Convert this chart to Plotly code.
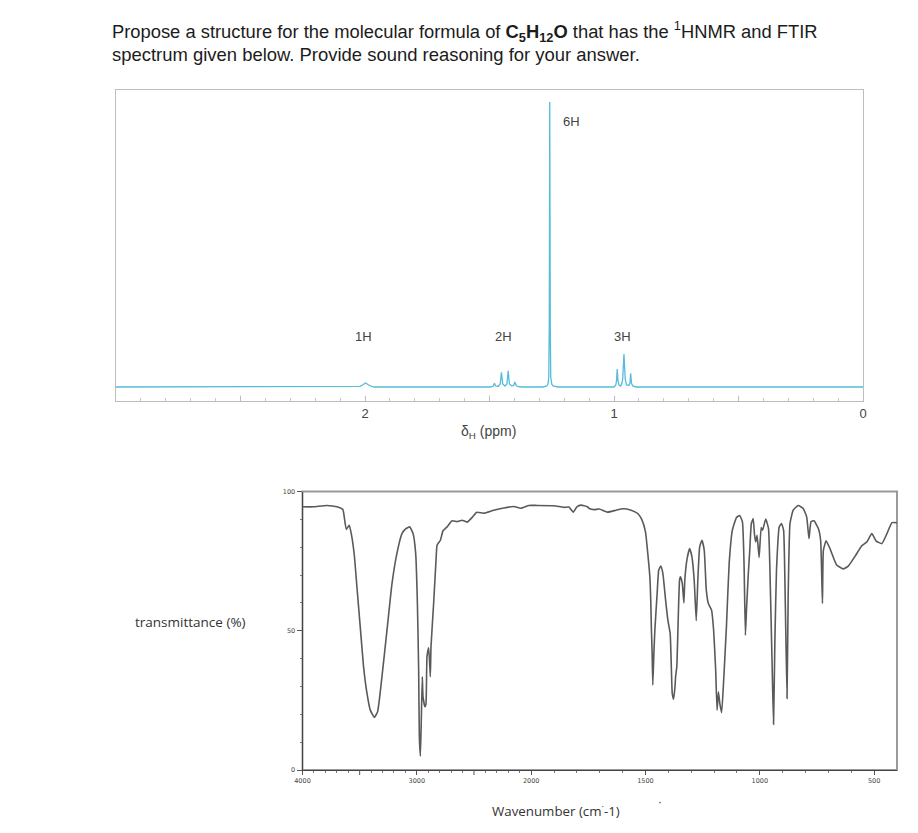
import plotly.graph_objects as go

W = 918
H = 833

# 1H NMR trace
nmr_ppm = [3.0, 2.03, 2.02, 2.01, 1.998, 1.985, 1.975, 1.965,
           1.495, 1.485, 1.48, 1.475, 1.465, 1.457, 1.452, 1.447, 1.438, 1.43, 1.425, 1.42,
           1.41, 1.403, 1.398, 1.393, 1.385, 1.37,
           1.285, 1.27, 1.265, 1.262, 1.26, 1.258, 1.256, 1.254, 1.25, 1.245, 1.225,
           1.0, 0.993, 0.99, 0.987, 0.984, 0.98, 0.973, 0.968, 0.965, 0.96, 0.955, 0.95,
           0.94, 0.936, 0.933, 0.93, 0.925, 0.91, 0.0]
nmr_height = [0, 0, 0.6, 2, 4, 2, 0.6, 0,
              0, 1, 3.7, 1, 0.5, 3, 14.7, 3, 1, 3, 16.3, 3,
              1, 1.5, 5, 1.5, 0.3, 0,
              0, 1, 3, 10, 60, 285, 60, 10, 3, 1, 0,
              0, 2, 6, 18, 6, 2, 1, 4, 8, 33, 8, 2,
              1.5, 4, 13.7, 4, 1, 0, 0]
nmr_major = [0, 1, 2]
nmr_half = [0.5, 1.5, 2.5]
nmr_minor = [0.1, 0.2, 0.3, 0.4, 0.6, 0.7, 0.8, 0.9, 1.1, 1.2, 1.3, 1.4, 1.6, 1.7, 1.8, 1.9,
             2.1, 2.2, 2.3, 2.4, 2.6, 2.7, 2.8, 2.9]

# FTIR trace
ir_wave = [4000, 3904, 3787, 3699, 3647, 3635, 3617, 3591, 3571, 3547, 3524, 3495, 3466, 3436, 3407,
           3372, 3343, 3305, 3261, 3217, 3174, 3130, 3100, 3062, 3033, 3010, 2995, 2984, 2978, 2969,
           2961, 2952, 2946, 2929, 2920, 2911, 2896, 2882, 2876, 2853, 2832, 2823, 2794, 2771, 2736,
           2692, 2648, 2604, 2560, 2516, 2478, 2414, 2327, 2239, 2151, 2093, 2020, 1974, 1901, 1857,
           1835, 1816, 1800, 1782, 1754, 1746, 1724, 1702, 1665, 1629, 1599, 1563, 1534, 1515, 1500,
           1490, 1481, 1477, 1474, 1471, 1468, 1463, 1459, 1449, 1442, 1433, 1424, 1412, 1402, 1392,
           1387, 1383, 1377, 1371, 1368, 1363, 1357, 1351, 1347, 1339, 1332, 1328, 1319, 1307, 1297,
           1287, 1278, 1271, 1263, 1253, 1243, 1234, 1225, 1211, 1202, 1193, 1187, 1181, 1175, 1167,
           1158, 1146, 1134, 1120, 1102, 1088, 1076, 1069, 1063, 1058, 1051, 1044, 1037, 1029, 1023,
           1018, 1012, 1003, 994, 988, 974, 962, 953, 946, 940, 934, 927, 915, 905, 896,
           889, 881, 876, 868, 854, 832, 810, 795, 785, 776, 763, 744, 734, 726, 722,
           710, 693, 664, 635, 613, 583, 554, 532, 510, 491, 466, 444, 422, 400]
ir_trans = [94.5, 94.5, 95, 94.5, 93.5, 90.9, 86.4, 87.9, 84.3, 77.2, 65.8, 51.4, 37.1, 27.5, 21.5,
            18.9, 20.9, 33.5, 50.2, 67, 77.8, 84.9, 86.5, 87.3, 84.9, 77.8, 59.8, 35.9, 12, 5,
            17.9, 33.5, 26.3, 22.7, 23.7, 40.7, 43.9, 33.5, 44.3, 59.8, 75.4, 80.7, 82.5, 85.9, 87.3,
            89.5, 89.2, 89.7, 89, 90.7, 92.5, 92.2, 93.3, 94.1, 94.6, 94, 95, 95, 94.9, 94.3,
            94.4, 92.6, 94.5, 95.1, 94.5, 93.9, 93.5, 93.7, 92.6, 93.3, 93.8, 93.3, 92.1, 89.7, 85.5,
            77.8, 69.4, 61, 50.2, 42.5, 30.5, 42.5, 50.2, 63.4, 71.8, 73.2, 70.6, 61, 53.8, 49,
            37.1, 27.5, 25.4, 29.9, 33.7, 37.1, 53.8, 68.2, 69.4, 67, 60, 68.2, 75.4, 79.5, 76.6,
            68.2, 53.6, 68.2, 80.1, 82.5, 78.9, 64.6, 59.8, 57.4, 50.2, 35.9, 21.5, 28.1, 23.9, 20.6,
            32.3, 51.4, 74.2, 86.1, 90.7, 91.4, 89.1, 74.2, 48.4, 58, 69.4, 78.9, 88.5, 90.3, 84.3,
            81.9, 84.3, 76.3, 87.1, 86.1, 90.1, 86.7, 62.2, 37.1, 16.4, 46.7, 71.8, 87.3, 88.5, 86.1,
            62.2, 25.7, 62.2, 88.5, 93.3, 95, 93.9, 90.9, 83.1, 89.1, 89.5, 86.7, 82.5, 59.8, 78.9,
            82.3, 79.5, 73.6, 72.2, 73.2, 76.8, 80.5, 81.9, 84.9, 82.2, 81.3, 84.9, 88.8, 88.8]
ir_major = [4000, 3000, 2000, 1500, 1000, 500]
ir_half = [3500, 2500]
ir_minor = [3900, 3800, 3700, 3600, 3400, 3300, 3200, 3100, 2900, 2800, 2700, 2600, 2400, 2300, 2200, 2100,
            1900, 1800, 1700, 1600, 1400, 1300, 1200, 1100, 900, 800, 700, 600]
ir_y_major = [0, 50, 100]
ir_y_minor = [10, 20, 30, 40, 60, 70, 80, 90]

# (text, x px, y px) for the text around the plots
peak_labels = [("6H", 571, 121), ("1H", 363, 336), ("2H", 503, 336), ("3H", 622, 336)]


def ir_pos(w):
    # the spectrometer doubles the scale below 2000 cm-1
    return 4000 - w if w >= 2000 else 2000 + (2000 - w) * 2


def dom_x(a, b):
    return [a / W, b / W]


def dom_y(top, bottom):
    return [1 - bottom / H, 1 - top / H]


fig = go.Figure()
fig.add_trace(go.Scatter(x=nmr_ppm, y=nmr_height, mode="lines",
                         line=dict(color="#55bcd9", width=1.3), xaxis="x", yaxis="y"))
fig.add_trace(go.Scatter(x=[ir_pos(w) for w in ir_wave], y=ir_trans, mode="lines",
                         line=dict(color="#5a5a5a", width=1.6, shape="spline", smoothing=0.4),
                         xaxis="x2", yaxis="y2"))


def label(text, x, y, size=13, color="#444444", family="Liberation Sans", anchor="center"):
    fig.add_annotation(text=text, x=x / W, y=1 - y / H, xref="paper", yref="paper",
                       showarrow=False, xanchor=anchor, yanchor="middle",
                       font=dict(size=size, color=color, family=family))


label("Propose a structure for the molecular formula of <b>C<sub>5</sub>H<sub>12</sub>O</b> "
      "that has the <sup>1</sup>HNMR and FTIR", 109.5, 31.5, size=18.35, color="#1c1c1c", anchor="left")
label("spectrum given below. Provide sound reasoning for your answer.", 109.5, 54,
      size=18.45, color="#1c1c1c", anchor="left")
for text, x, y in peak_labels:
    label(text, x, y)
label("δ<sub>H</sub> (ppm)", 488, 432, size=14)
label("transmittance (%)", 190, 622, size=13.5, family="Open Sans", color="#333333")
label("Wavenumber (cm<sup>·</sup>-1)", 556, 810, size=13.3, family="Open Sans", color="#333333")
label("·", 660, 802, size=12, color="#333333")

fig.add_shape(type="rect", xref="x2 domain", yref="y2 domain", x0=0, x1=1, y0=0, y1=1,
              line=dict(color="#9a9a9a", width=2), layer="below")
for v in nmr_half:
    fig.add_shape(type="line", xref="x", yref="y domain", x0=v, x1=v, y0=0, y1=0.017,
                  line=dict(color="#bdbdbd", width=1))
for w in ir_half:
    fig.add_shape(type="line", xref="x2", yref="y2 domain", x0=ir_pos(w), x1=ir_pos(w), y0=0, y1=-0.018,
                  line=dict(color="#555555", width=1))

fig.update_layout(
    width=W, height=H, margin=dict(l=0, r=0, t=0, b=0),
    paper_bgcolor="white", plot_bgcolor="white", showlegend=False,
    xaxis=dict(domain=dom_x(116, 863), range=[3, 0], showgrid=False, zeroline=False, automargin=False,
               showline=True, mirror=True, linecolor="#bdbdbd", linewidth=1,
               tickvals=nmr_major, ticks="inside", ticklen=5, tickcolor="#bdbdbd", ticklabelstandoff=0,
               tickfont=dict(size=13, color="#444444", family="Liberation Sans"),
               minor=dict(tickvals=nmr_minor, ticks="inside", ticklen=3, tickcolor="#c8c8c8")),
    yaxis=dict(domain=dom_y(90, 401), range=[-14, 297], showgrid=False, zeroline=False, automargin=False,
               showline=True, mirror=True, linecolor="#bdbdbd", linewidth=1,
               showticklabels=False, ticks=""),
    xaxis2=dict(domain=dom_x(302.5, 897), range=[0, 5200], anchor="y2", automargin=False,
                showgrid=False, zeroline=False, showline=True, linecolor="#444444", linewidth=1,
                tickvals=[ir_pos(w) for w in ir_major], ticktext=[str(w) for w in ir_major],
                ticks="outside", ticklen=4, tickcolor="#555555",
                tickfont=dict(size=6.5, color="#444444", family="DejaVu Sans"),
                minor=dict(tickvals=[ir_pos(w) for w in ir_minor], ticks="outside",
                           ticklen=2, tickcolor="#777777")),
    yaxis2=dict(domain=dom_y(491.5, 770), range=[0, 100], anchor="x2", automargin=False,
                showgrid=False, zeroline=False, showline=True, linecolor="#444444", linewidth=1,
                tickvals=ir_y_major, ticks="outside", ticklen=5, tickcolor="#555555",
                tickfont=dict(size=6.5, color="#444444", family="DejaVu Sans"),
                minor=dict(tickvals=ir_y_minor, ticks="outside", ticklen=2, tickcolor="#777777")),
)

fig.write_html("out.html", config={"displayModeBar": False},
               post_script="document.body.style.margin = '0';")
